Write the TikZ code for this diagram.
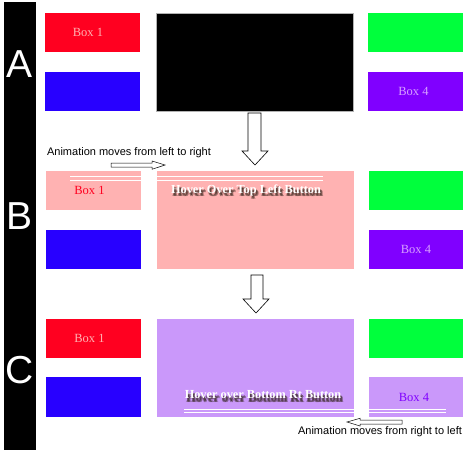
\documentclass[tikz,border=0pt]{standalone}
\usepackage{fontspec}
\setmainfont{Liberation Serif}
\newfontfamily\arialfont{Liberation Sans}
\definecolor{cred}{RGB}{255,0,32}
\definecolor{cblue}{RGB}{40,0,255}
\definecolor{cgreen}{RGB}{0,255,60}
\definecolor{cpurple}{RGB}{128,0,255}
\definecolor{cpink}{RGB}{255,178,178}
\definecolor{clav}{RGB}{202,152,250}
\definecolor{clavtext}{RGB}{215,160,255}
\definecolor{cshadow}{RGB}{45,30,20}
\tikzset{
  box/.style={inner sep=0pt, outer sep=0pt, draw=none, font=\fontsize{12.5}{14}\selectfont},
  small/.style={box, minimum width=95, minimum height=39},
  big/.style={box, minimum width=197, minimum height=98},
  letter/.style={text=white, font=\arialfont\fontsize{39}{40}\selectfont, inner sep=0pt},
  note/.style={font=\arialfont\fontsize{11}{12}\selectfont, inner sep=0pt},
  hover/.style={text=white, font=\bfseries\fontsize{12.3}{13}\selectfont, inner sep=0pt},
  hovershadow/.style={text=cshadow, font=\bfseries\fontsize{12.3}{13}\selectfont, inner sep=0pt, opacity=0.45},
  blockarrow/.style={draw=black, fill=white, line width=0.6pt, line join=miter},
  dline/.style={draw=white, line width=1pt}
}
\begin{document}
\begin{tikzpicture}[x=1pt,y=-1pt]
\useasboundingbox (0,0) rectangle (474,456);
\fill[white] (0,0) rectangle (474,456);
% left black bar
\node[box, fill=black, minimum width=32, minimum height=448] (bar) at (20,226) {};
\node[letter] (la) at (20,64) {A};
\node[letter] (lb) at (20,216) {B};
\node[letter] (lc) at (20,370) {C};
% Row A
\node[small, fill=cred, text=cpink] (a1) at (92.5,32.5) {\hspace*{-9pt}Box 1};
\node[small, fill=cblue] (a2) at (92.5,91.5) {};
\node[big, fill=black, draw=gray!60, line width=0.4pt] (a3) at (254.5,62) {};
\node[small, fill=cgreen] (a4) at (415.5,32.5) {};
\node[small, fill=cpurple, text=clavtext] (a5) at (415.5,91.5) {\hspace*{-4pt}Box 4};
% Row B
\node[small, fill=cpink, text=cred] (b1) at (93.5,190.5) {\hspace*{-8pt}Box 1};
\node[small, fill=cblue] (b2) at (93.5,249.5) {};
\node[big, fill=cpink] (b3) at (255.5,220) {};
\node[small, fill=cgreen, minimum width=94] (b4) at (416,190.5) {};
\node[small, fill=cpurple, text=clavtext, minimum width=94] (b5) at (416,249.5) {\raisebox{-2pt}{Box 4}};
% Row C
\node[small, fill=cred, text=cpink] (c1) at (93.5,338.5) {\hspace*{-8pt}Box 1};
\node[small, fill=cblue, minimum height=40] (c2) at (93.5,397) {};
\node[big, fill=clav] (c3) at (255.5,368) {};
\node[small, fill=cgreen, minimum width=94] (c4) at (416,338.5) {};
\node[small, fill=clav, text=cpurple, minimum width=94, minimum height=40] (c5) at (416,397) {\raisebox{-2pt}{\hspace*{-4pt}Box 4}};
% double white lines
\coordinate (bl1) at (70,176); \coordinate (br1) at (323,176);
\coordinate (bl2) at (70,180); \coordinate (br2) at (323,180);
\draw[dline] (bl1) -- (br1);
\draw[dline] (bl2) -- (br2);
\coordinate (cl1) at (184,409); \coordinate (cr1) at (446,409);
\coordinate (cl2) at (184,412.5); \coordinate (cr2) at (446,412.5);
\draw[dline] (cl1) -- (cr1);
\draw[dline] (cl2) -- (cr2);
% hover texts with soft shadow
\foreach \dx/\dy in {1.5/2.5,2.5/3.5,1/3.5}{
  \node[hovershadow] at (246+\dx,190+\dy) {Hover Over Top Left Button};
  \node[hovershadow] at (263+\dx,395+\dy) {Hover over Bottom Rt Button};
}
\node[hover] (hb) at (246,190) {Hover Over Top Left Button};
\node[hover] (hc) at (263,395) {Hover over Bottom Rt Button};
% notes
\node[note] (nb) at (129,153) {Animation moves from left to right};
\node[note] (nc) at (380,432) {Animation moves from right to left};
% down block arrows (black box to row B, row B to row C)
\draw[blockarrow] (248,113) -- (261,113) -- (261,151) -- (268,151) -- (255,165) -- (242,151) -- (248,151) -- cycle;
\draw[blockarrow] (251,275) -- (263,275) -- (263,299) -- (269,299) -- (256,313) -- (243,299) -- (251,299) -- cycle;
% right block arrow
\draw[blockarrow, line width=0.5pt] (111,163) -- (152,163) -- (152,161) -- (165,165) -- (152,169.3) -- (152,167.2) -- (111,167.2) -- cycle;
% left block arrow
\draw[blockarrow, line width=0.5pt] (402,420) -- (360,420) -- (360,418.3) -- (347,422) -- (360,426) -- (360,424.2) -- (402,424.2) -- cycle;
\end{tikzpicture}
\end{document}
